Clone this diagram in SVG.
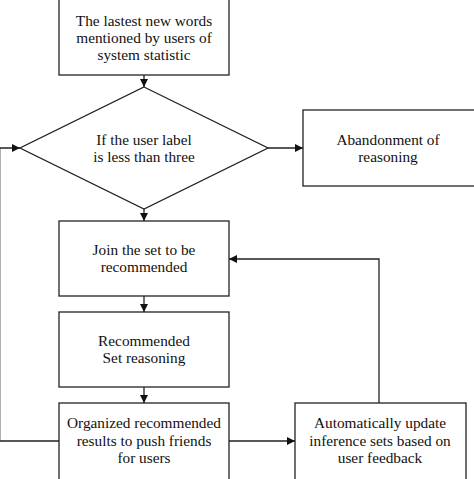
<svg xmlns="http://www.w3.org/2000/svg" width="474" height="479" viewBox="0 0 474 479">
<style>
.box{fill:#fff;stroke:#222;stroke-width:1.3}
.ln{fill:none;stroke:#222;stroke-width:1.3}
text{font-family:"Liberation Serif","Times New Roman",serif;font-size:15.3px;fill:#111;text-anchor:middle}
</style>
<defs>
<marker id="ah" viewBox="0 0 10 10" refX="10" refY="5" markerWidth="8" markerHeight="8" markerUnits="userSpaceOnUse" orient="auto">
<path d="M0,0 L10,5 L0,10 Z" fill="#111"/>
</marker>
</defs>
<rect width="474" height="479" fill="#fff"/>
<g id="connectors">
<line class="ln" x1="144" y1="75" x2="144" y2="87" marker-end="url(#ah)"/>
<line class="ln" x1="268" y1="148" x2="303" y2="148" marker-end="url(#ah)"/>
<line class="ln" x1="144" y1="209" x2="144" y2="221" marker-end="url(#ah)"/>
<line class="ln" x1="144" y1="296" x2="144" y2="312" marker-end="url(#ah)"/>
<line class="ln" x1="144" y1="387" x2="144" y2="403" marker-end="url(#ah)"/>
<line class="ln" x1="229" y1="441" x2="295" y2="441" marker-end="url(#ah)"/>
<polyline class="ln" points="379,403 379,259 229,259" marker-end="url(#ah)"/>
<polyline class="ln" points="59,441 -0.3,441 -0.3,148 20,148" marker-end="url(#ah)"/>
</g>
<g id="start">
<rect class="box" x="59" y="-2" width="170" height="77"/>
<text x="144" y="26">The lastest new words</text>
<text x="144" y="43">mentioned by users of</text>
<text x="144" y="60">system statistic</text>
</g>
<g id="decision">
<polygon class="box" points="144,87 268,148 144,209 20,148"/>
<text x="144" y="145">If the user label</text>
<text x="144" y="162">is less than three</text>
</g>
<g id="abandon">
<rect class="box" x="303" y="110" width="173" height="76"/>
<text x="388" y="145">Abandonment of</text>
<text x="388" y="162">reasoning</text>
</g>
<g id="join">
<rect class="box" x="59" y="221" width="170" height="75"/>
<text x="144" y="255">Join the set to be</text>
<text x="144" y="272">recommended</text>
</g>
<g id="reasoning">
<rect class="box" x="59" y="312" width="170" height="75"/>
<text x="144" y="346">Recommended</text>
<text x="144" y="363">Set reasoning</text>
</g>
<g id="organized">
<rect class="box" x="59" y="403" width="170" height="80"/>
<text x="144" y="428">Organized recommended</text>
<text x="144" y="446">results to push friends</text>
<text x="144" y="463">for users</text>
</g>
<g id="update">
<rect class="box" x="295" y="403" width="171" height="80"/>
<text x="380" y="428">Automatically update</text>
<text x="380" y="446">inference sets based on</text>
<text x="380" y="463">user feedback</text>
</g>
</svg>
